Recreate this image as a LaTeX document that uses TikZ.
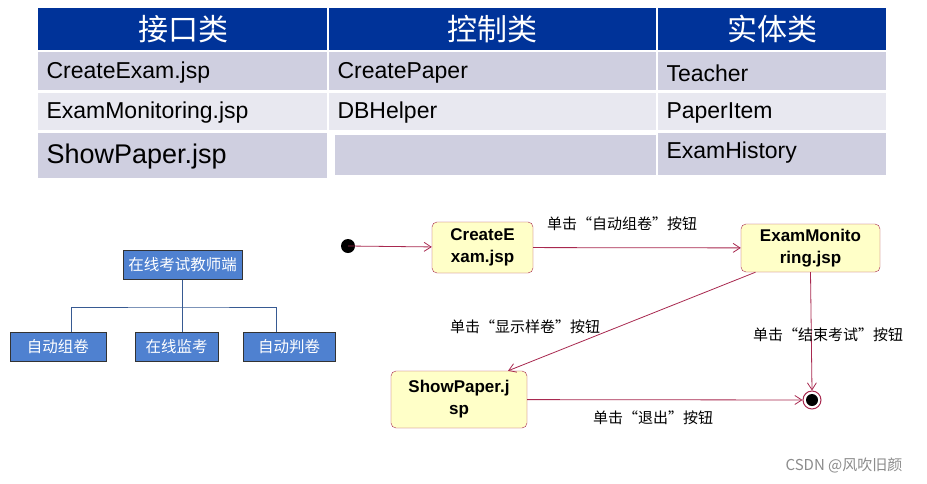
\documentclass[tikz,border=0pt]{standalone}
\usepackage{fontspec}
\setmainfont{Liberation Sans}
\newfontfamily\cjk{Noto Sans CJK SC}
\usetikzlibrary{arrows.meta}
\definecolor{hdr}{HTML}{003399}
\definecolor{rowa}{HTML}{CFCFE0}
\definecolor{rowb}{HTML}{E8E8F0}
\definecolor{tb}{HTML}{4F81D0}
\definecolor{crim}{HTML}{A8284F}
\definecolor{st}{HTML}{FFFFC8}
\begin{document}
\begin{tikzpicture}[x=1pt,y=-1pt,
  htxt/.style={text=white,font=\cjk\fontsize{30}{32}\selectfont},
  btxt/.style={anchor=west,font=\fontsize{23}{25}\selectfont},
  tree/.style={draw=black!80,fill=tb,text=white,font=\cjk\fontsize{15.5}{17}\selectfont,inner sep=0pt,minimum height=29pt},
  tline/.style={draw=tb!70!black,line width=0.8pt},
  stbox/.style={draw=crim,fill=st,rounded corners=5pt,align=center,font=\bfseries\fontsize{17}{22}\selectfont,inner sep=0pt},
  tr/.style={draw=crim,line width=0.8pt,-{Straight Barb[length=7pt,width=9pt]}},
  lbl/.style={font=\cjk\fontsize{15}{17}\selectfont}]
\useasboundingbox (0,0) rectangle (927,483);
\fill[white] (0,0) rectangle (927,483);
% table
\fill[hdr] (38,8) rectangle (327,50); \fill[hdr] (329,8) rectangle (656,50); \fill[hdr] (658,8) rectangle (886,50);
\fill[rowa] (38,52) rectangle (327,90); \fill[rowa] (329,52) rectangle (656,90); \fill[rowa] (658,52) rectangle (886,90);
\fill[rowb] (38,93) rectangle (327,130); \fill[rowb] (329,93) rectangle (656,130); \fill[rowb] (658,93) rectangle (886,130);
\fill[rowa] (38,133) rectangle (327,178); \fill[rowa] (335,135) rectangle (656,175); \fill[rowa] (658,133) rectangle (886,175);
\node[htxt] (h1) at (183,29) {接口类};
\node[htxt] (h2) at (492,29) {控制类};
\node[htxt] (h3) at (772,29) {实体类};
\node[btxt] (c11) at (43,73) {CreateExam.jsp};
\node[btxt] (c21) at (43,113) {ExamMonitoring.jsp};
\node[btxt,font=\fontsize{27}{29}\selectfont] (c31) at (43,157) {ShowPaper.jsp};
\node[btxt] (c12) at (334,73) {CreatePaper};
\node[btxt] (c22) at (334,113) {DBHelper};
\node[btxt] (c13) at (663,73) {Teacher};
\node[btxt] (c23) at (663,113) {PaperItem};
\node[btxt] (c33) at (663,153) {ExamHistory};
% tree
\node[tree,minimum width=119pt] (root) at (182.5,265) {在线考试教师端};
\node[tree,minimum width=96pt] (k1) at (58,346.5) {自动组卷};
\node[tree,minimum width=83pt] (k2) at (176.5,346.5) {在线监考};
\node[tree,minimum width=92pt] (k3) at (289,346.5) {自动判卷};
\coordinate (j) at (183,307);
\draw[tline] (root.south) -- (root.south|-k2.north);
\draw[tline] (k1.north-|71,0) |- (j) -| (k3.north-|276,0);
% state
\coordinate (s0) at (348,246);
\fill (s0) circle (7pt);
\node[stbox,minimum width=101pt,minimum height=51pt] (ce) at (482.5,247.5) {CreateE\\xam.jsp};
\node[stbox,minimum width=139pt,minimum height=48pt] (em) at (810.5,248) {ExamMonito\\ring.jsp};
\node[stbox,minimum width=136pt,minimum height=57pt] (sp) at (459,399.5) {ShowPaper.j\\sp};
\node[circle,draw=crim,line width=1pt,fill=white,minimum size=18pt,inner sep=0pt] (end) at (812,400) {};
\fill (end) circle (6pt);
\draw[tr] (s0) -- (ce);
\draw[tr] (ce) -- (em);
\draw[tr] ([xshift=-55pt]em.south) -- ([xshift=49pt]sp.north);
\draw[tr] (em.south) -- (end.north);
\draw[tr] (sp) -- (end);
\node[lbl] (l1) at (622,224) {单击“自动组卷”按钮};
\node[lbl] (l2) at (525,327) {单击“显示样卷”按钮};
\node[lbl] (l3) at (828,335) {单击“结束考试”按钮};
\node[lbl] (l4) at (653,418) {单击“退出”按钮};
\node[font=\cjk\fontsize{15}{17}\selectfont,text=black!45] (wm) at (844,465) {CSDN @风吹旧颜};
\end{tikzpicture}
\end{document}
